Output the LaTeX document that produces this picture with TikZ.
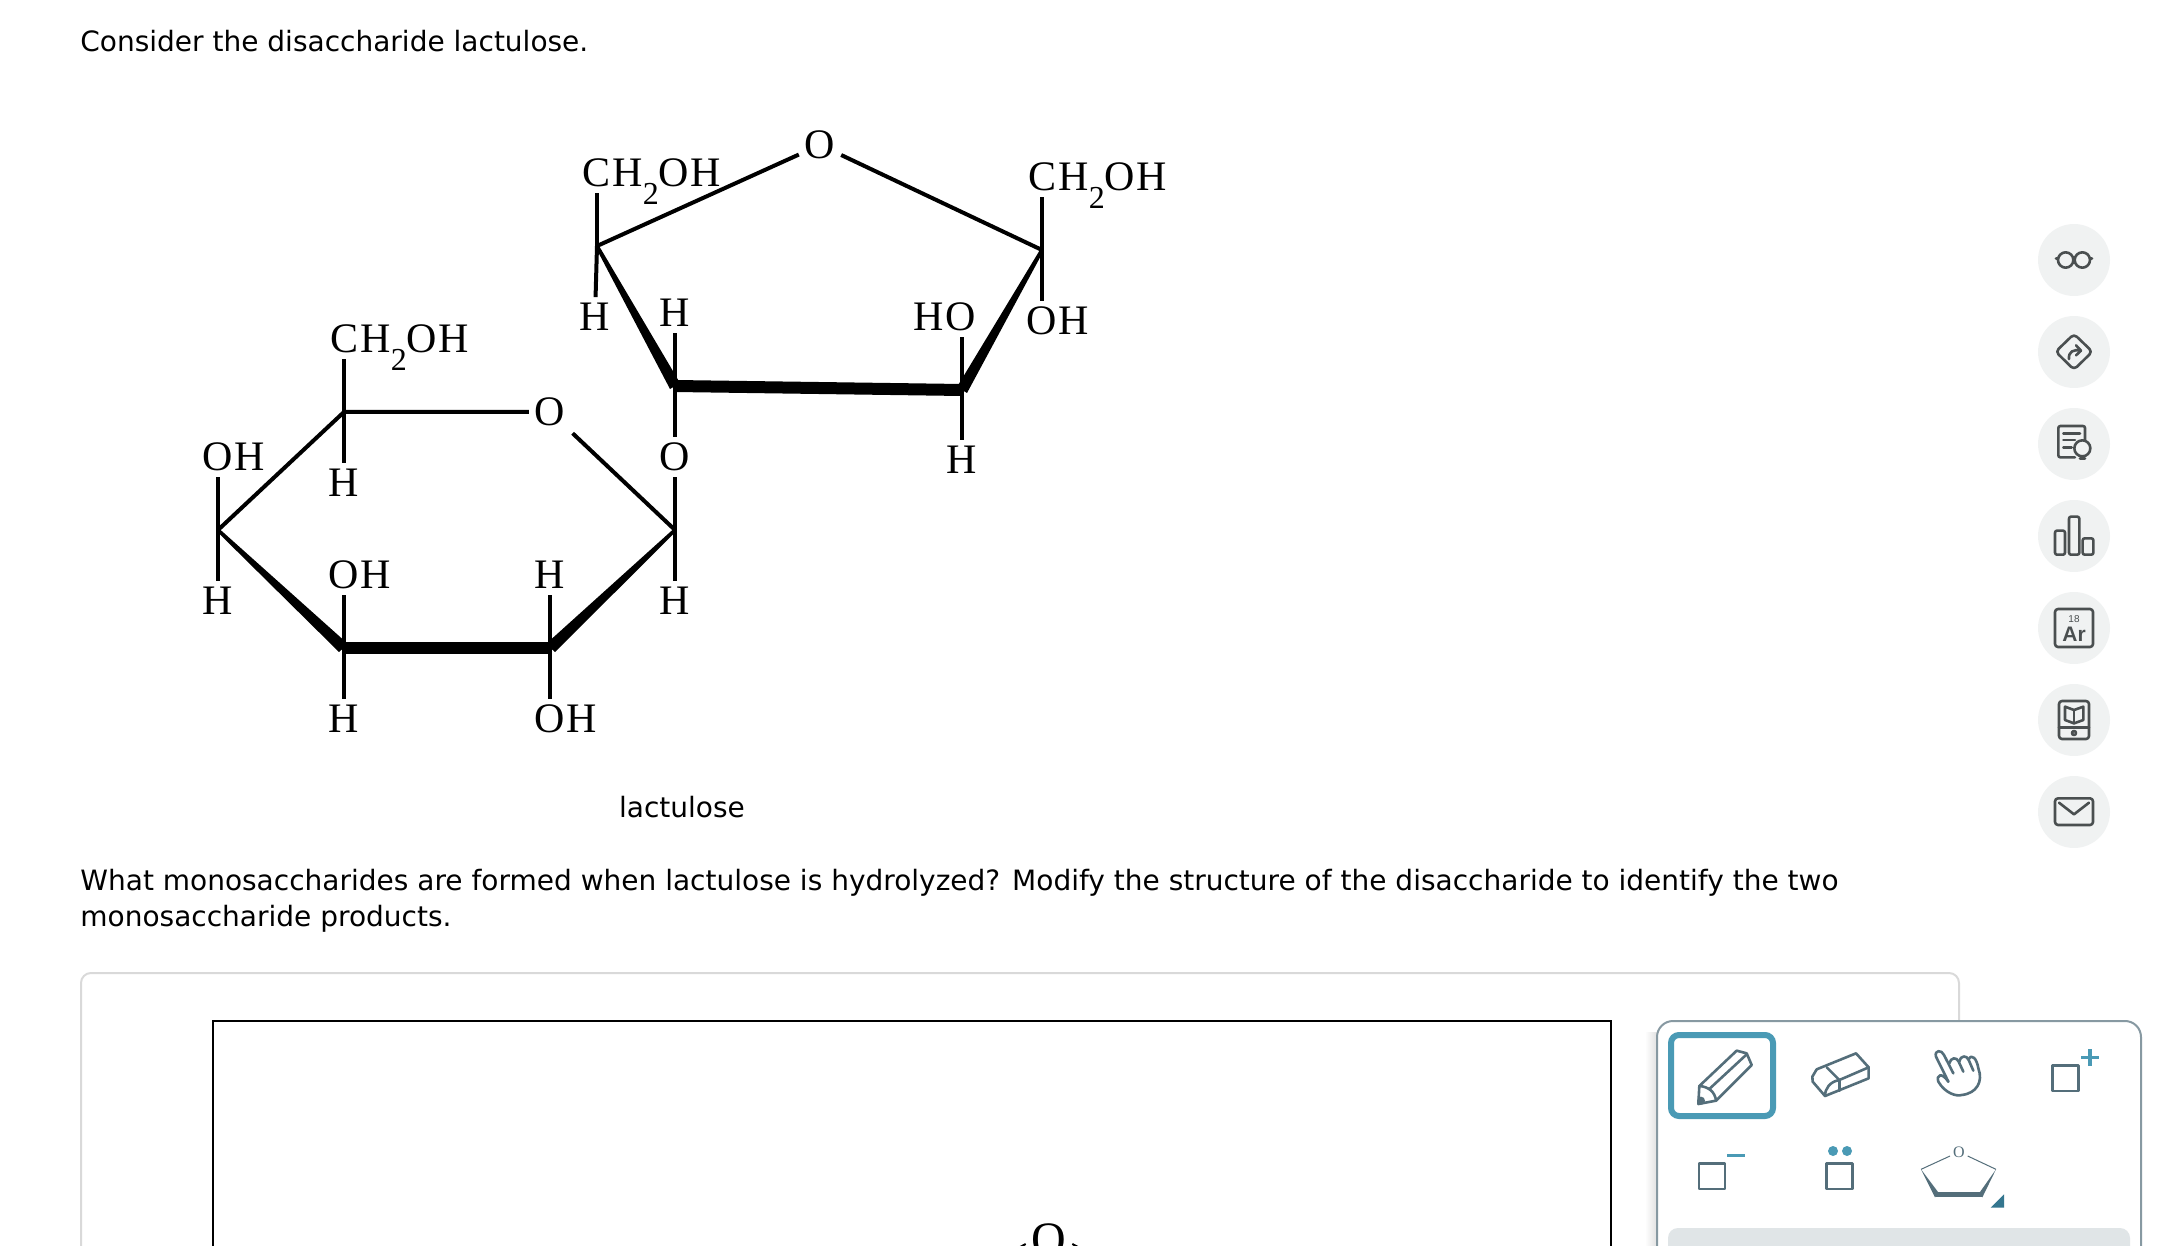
\documentclass[tikz,border=0pt]{standalone}
\usepackage{fontspec}
\usepackage{tikz}
\usetikzlibrary{calc}
\setmainfont{DejaVu Sans}
\newfontfamily\chemfont[LetterSpace=4]{Liberation Serif}
\newfontfamily\plainserif{Liberation Serif}
\newfontfamily\arfont{Liberation Sans}
\newcommand{\chtwo}{CH\raisebox{-.42em}{\smash{\fontsize{16}{16}\selectfont 2}}OH}
\definecolor{iconblue}{HTML}{546E7A}
\definecolor{tealbox}{HTML}{4A9AB5}
\definecolor{tealtri}{HTML}{34768F}
\definecolor{sidegray}{HTML}{F0F2F2}
\definecolor{sideicon}{HTML}{4A4F50}
\begin{document}
\begin{tikzpicture}[x=0.5pt,y=-0.5pt,
	atom/.style={font=\chemfont\fontsize{21}{21}\selectfont,inner sep=0pt,outer sep=3pt,text height=13.9pt,text depth=0pt},
	bond/.style={line width=2pt},
	heavy/.style={line width=6pt,line cap=square},
	prose/.style={font=\fontsize{14}{17}\selectfont,inner sep=0pt,anchor=west,text height=10pt,text depth=3pt},
	uiline/.style={line width=1.3pt,color=iconblue,line join=round,line cap=round},
	sideline/.style={line width=1.3pt,color=sideicon,line join=round,line cap=round},
	sideball/.style={circle,fill=sidegray,minimum size=36pt,inner sep=0pt}]
\useasboundingbox (0,0) rectangle (2160,1246);
\clip (0,0) rectangle (2160,1246);
\node [prose] (intro) at (80,45) {Consider the disaccharide lactulose.};
\node [prose] (cap) at (682,810) [anchor=center] {lactulose};
\node [prose] (ask1) at (80,883) {What monosaccharides are formed when lactulose is hydrolyzed? Modify the structure of the disaccharide to identify the two};
\node [prose] (ask2) at (80,919) {monosaccharide products.};

% ring on the left
\coordinate (r1) at (218,530);
\coordinate (r2) at (344,412);
\coordinate (r3) at (675,530);
\coordinate (r4) at (550,648);
\coordinate (r5) at (344,648);
\node [atom] (ro) at (550,412) {O};
\node [atom] (rch) at (400,339) {\chtwo};
\node [atom] (rh2) at (344,483) {H};
\node [atom] (roh1) at (234,457) {OH};
\node [atom] (rh1) at (218,601) {H};
\node [atom] (roh5) at (360,575) {OH};
\node [atom] (rh5) at (344,719) {H};
\node [atom] (rh4) at (550,575) {H};
\node [atom] (roh4) at (566,719) {OH};
\node [atom] (rh3) at (675,601) {H};
\node [atom] (link) at (675,457) {O};
\draw [bond] (r1) -- (r2) -- (ro);
\draw [bond,shorten <=1pt] (ro.south east) -- (r3);
\draw [bond] (r2) -- (r2 |- rch.south);
\draw [bond] (r2) -- (rh2);
\draw [bond] (r1) -- (r1 |- roh1.south);
\draw [bond] (r1) -- (rh1);
\draw [bond] (r5) -- (r5 |- roh5.south);
\draw [bond] (r5) -- (rh5);
\draw [bond] (r4) -- (rh4);
\draw [bond] (r4) -- (r4 |- roh4.north);
\draw [bond] (r3) -- (link);
\draw [bond] (r3) -- (rh3);
\fill ($(r1)+(-1,1.5)$) -- ($(r5)+(-5,4)$) -- ($(r5)+(4,-4)$) -- ($(r1)+(1.5,-1)$) -- cycle;
\fill ($(r3)+(1,1.5)$) -- ($(r4)+(5,4)$) -- ($(r4)+(-4,-4)$) -- ($(r3)+(-1.5,-1)$) -- cycle;
\draw [heavy] (r5) -- (r4);

% ring at the top
\coordinate (f1) at (597,246);
\coordinate (f2) at (1042,250);
\coordinate (f3) at (962,390);
\coordinate (f4) at (675,386);
\node [atom] (fo) at (820,145) {O};
\node [atom] (fch1) at (652,173) {\chtwo};
\node [atom] (fch2) at (1098,177) {\chtwo};
\node [atom] (fh1) at (595,317) {H};
\node [atom] (foh) at (1058,321) {OH};
\node [atom] (fho) at (945,317) {HO};
\node [atom] (fh3) at (962,460) {H};
\node [atom] (fh4) at (675,313) {H};
\draw [bond] (f1) -- (fo);
\draw [bond] (fo) -- (f2);
\draw [bond] (f1) -- (f1 |- fch1.south);
\draw [bond] (f1) -- (fh1);
\draw [bond] (f2) -- (f2 |- fch2.south);
\draw [bond] (f2) -- (f2 |- foh.north);
\draw [bond] (f3) -- (f3 |- fho.south);
\draw [bond] (f3) -- (fh3);
\draw [bond] (f4) -- (fh4);
\draw [bond] (f4) -- (link);
\fill ($(f1)+(-1.5,1)$) -- ($(f4)+(-5,3)$) -- ($(f4)+(5,-3)$) -- ($(f1)+(1.5,-1)$) -- cycle;
\fill ($(f2)+(1.5,1)$) -- ($(f3)+(5,3)$) -- ($(f3)+(-5,-3)$) -- ($(f2)+(-1.5,-1)$) -- cycle;
\draw [heavy] (f4) -- (f3);

% answer area
\draw [line width=1pt,color=black!15,rounded corners=5pt] (81,1300) -- (81,973) -- (1959,973) -- (1959,1300);
\draw [line width=1pt,color=black] (213,1300) -- (213,1021) -- (1611,1021) -- (1611,1300);
\node [font=\plainserif\fontsize{24}{24}\selectfont,inner sep=0pt,outer sep=2pt] (sketcho) at (1049,1240) {O};
\coordinate (sketchl) at (960,1280);
\coordinate (sketchr) at (1140,1280);
\draw [line width=1pt] ($(sketcho.west)+(-2,4)$) -- (sketchl);
\draw [line width=1pt] ($(sketcho.east)+(2,4)$) -- (sketchr);

% tool panel
\shade [left color=white,right color=black!12] (1645,1032) rectangle (1657,1300);
\draw [line width=1pt,color=iconblue!70,fill=white,rounded corners=8pt] (1657,1300) -- (1657,1021) -- (2141,1021) -- (2141,1300);
\fill [color=iconblue!18,rounded corners=5pt] (1668,1228) rectangle (2130,1300);
\draw [line width=3pt,color=tealbox,rounded corners=4pt] (1671,1035) rectangle (1773,1116);
\begin{scope}[shift={(1640,960)},x=0.16667pt,y=-0.16667pt]
\draw [uiline] (178,378) -- (290,272) -- (320,280) -- (335,315) -- (228,422) -- (175,432) -- cycle;
\draw [uiline] (178,378) .. controls (205,380) and (225,395) .. (228,422);
\draw [uiline] (210,385) -- (318,285);
\fill [color=iconblue] (183,422) circle (12);
\draw [uiline] (530,328) -- (648,280) -- (686,322) -- (686,355) -- (555,408) -- (518,365) -- (517,350) -- cycle;
\draw [uiline] (560,322) -- (598,360) -- (686,322);
\draw [uiline] (598,360) -- (598,392);
\draw [uiline] (555,408) .. controls (555,385) and (570,365) .. (598,360);
\draw [uiline] (925,365) -- (888,290) .. controls (882,270) and (905,268) .. (912,285) -- (940,340);
\draw [uiline] (928,310) .. controls (932,292) and (950,290) .. (956,305) -- (970,335);
\draw [uiline] (958,305) .. controls (962,285) and (980,285) .. (986,300) -- (1000,332);
\draw [uiline] (986,298) .. controls (995,280) and (1010,295) .. (1015,325) .. controls (1030,365) and (1010,400) .. (965,405) .. controls (950,410) and (915,400) .. (895,365) .. controls (888,345) and (905,335) .. (925,365);
\draw [uiline] (1238,316) rectangle (1316,393);
\draw [line width=1.8pt,color=tealbox] (1323,293) -- (1377,293);
\draw [line width=1.8pt,color=tealbox] (1350,268) -- (1350,318);
\draw [uiline] (177,611) rectangle (255,687);
\draw [line width=1.8pt,color=tealbox] (262,587) -- (314,587);
\draw [uiline] (560,611) rectangle (638,687);
\fill [color=tealbox] (579,573) circle (15);
\fill [color=tealbox] (621,573) circle (15);
\node [font=\plainserif\fontsize{8}{8}\selectfont,color=iconblue,inner sep=0pt] (mini) at (957,577) {O};
\draw [line width=.5pt,color=iconblue] (930,588) -- (843,628);
\draw [line width=.5pt,color=iconblue] (983,588) -- (1068,628);
\fill [color=iconblue] (843,628) -- (885,712) -- (897,700) -- cycle;
\fill [color=iconblue] (1068,628) -- (1027,712) -- (1017,700) -- cycle;
\fill [color=iconblue] (887,696) rectangle (1027,712);
\fill [color=tealtri] (1092,703) -- (1092,743) -- (1052,743) -- cycle;
\end{scope}

% side buttons
\foreach \yy in {260,352,444,536,628,720,812}
	\node [sideball] (side\yy) at (2074,\yy) {};
\begin{scope}[shift={(2020,210)},x=0.16667pt,y=-0.16667pt]
\draw [sideline] (137,150) circle (23);
\draw [sideline] (187,150) circle (23);
\draw [sideline] (108,145) -- (114,145);
\draw [sideline] (210,145) -- (216,145);
\draw [sideline] (160,145) -- (164,145);
\draw [sideline,rounded corners=2pt] (162,372) -- (217,425) -- (162,479) -- (107,425) -- cycle;
\draw [sideline] (147,447) .. controls (145,425) and (160,417) .. (183,422);
\draw [sideline] (168,406) -- (183,422) -- (168,436);
\draw [sideline,rounded corners=1pt] (195,695) -- (195,648) -- (115,648) -- (115,742) -- (165,742);
\draw [sideline] (130,670) -- (180,670);
\draw [sideline] (130,690) -- (165,690);
\draw [sideline] (130,713) -- (155,713);
\draw [sideline,fill=sidegray] (187,715) circle (24);
\draw [sideline] (180,745) -- (195,745);
\end{scope}
\begin{scope}[shift={(2020,520)},x=0.16667pt,y=-0.16667pt]
\draw [sideline,rounded corners=1pt] (105,32) rectangle (135,104);
\draw [sideline,rounded corners=1pt] (147,-10) rectangle (178,104);
\draw [sideline,rounded corners=1pt] (188,55) rectangle (220,104);
\draw [sideline,rounded corners=1.5pt] (105,267) rectangle (219,381);
\node [font=\arfont\fontsize{5}{5}\selectfont,color=sideicon,inner sep=0pt] (arnum) at (162,296) {18};
\node [font=\arfont\bfseries\fontsize{10.5}{11}\selectfont,color=sideicon,inner sep=0pt] (arsym) at (162,343) {Ar};
\draw [sideline,rounded corners=1.5pt] (117,543) rectangle (207,657);
\draw [sideline] (117,622) -- (207,622);
\draw [sideline] (162,639) circle (6);
\draw [sideline] (135,560) -- (162,570) -- (190,560) -- (190,600) -- (162,610) -- (135,600) -- cycle;
\draw [sideline] (162,570) -- (162,610);
\draw [sideline,rounded corners=1.5pt] (105,835) rectangle (219,915);
\draw [sideline] (117,848) -- (162,883) -- (207,848);
\end{scope}
\end{tikzpicture}
\end{document}
